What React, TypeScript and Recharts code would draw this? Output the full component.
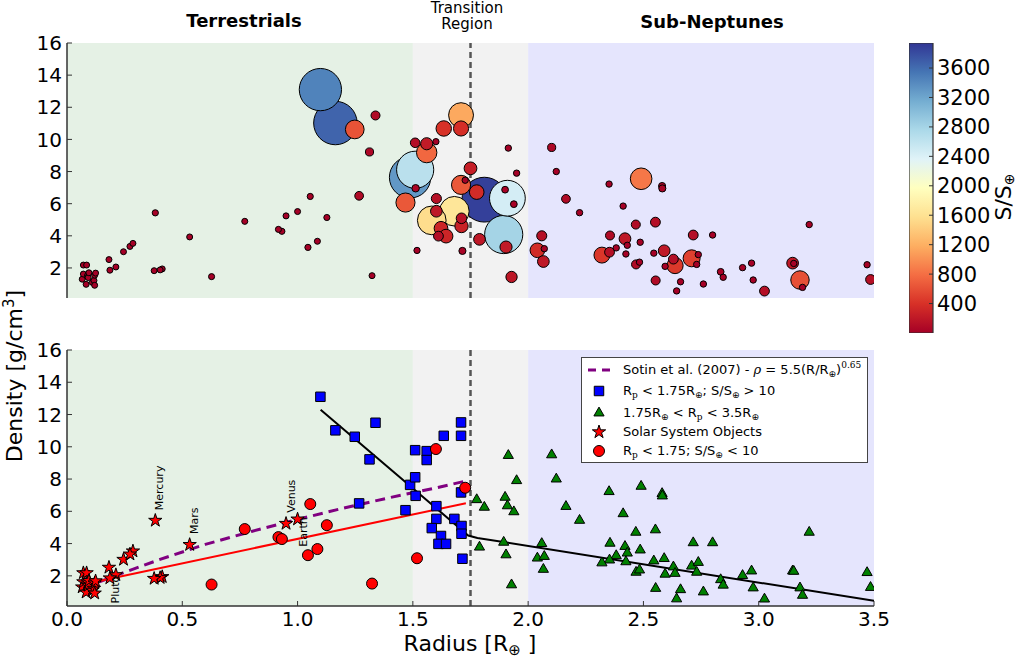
import React from 'react';
import {
  ScatterChart, Scatter, XAxis, YAxis, ZAxis, ReferenceArea, ReferenceLine, Cell, Legend,
  BarChart, Bar, Symbols,
} from 'recharts';

const FONT = "'DejaVu Sans', sans-serif";

// ---------- DATA (radius R⊕, density g/cm³, insolation S/S⊕) ----------
const solarSystem = [
  { x: 0.383, y: 5.43, s: 6.7 }, { x: 0.95, y: 5.24, s: 1.9 }, { x: 1.0, y: 5.51, s: 1.0 },
  { x: 0.532, y: 3.93, s: 0.43 }, { x: 0.286, y: 3.53, s: 0.04 }, { x: 0.245, y: 3.01, s: 0.04 },
  { x: 0.273, y: 3.34, s: 1.0 }, { x: 0.413, y: 1.94, s: 0.04 }, { x: 0.404, y: 1.88, s: 0.01 },
  { x: 0.378, y: 1.83, s: 0.04 }, { x: 0.212, y: 2.06, s: 0.001 }, { x: 0.186, y: 1.86, s: 0.001 },
  { x: 0.182, y: 2.52, s: 0.001 }, { x: 0.071, y: 2.18, s: 0.14 }, { x: 0.085, y: 2.18, s: 0.14 },
  { x: 0.066, y: 1.30, s: 0.01 }, { x: 0.071, y: 1.62, s: 0.01 }, { x: 0.083, y: 0.98, s: 0.01 },
  { x: 0.088, y: 1.48, s: 0.01 }, { x: 0.091, y: 1.60, s: 0.003 }, { x: 0.092, y: 1.40, s: 0.003 },
  { x: 0.095, y: 1.70, s: 0.001 }, { x: 0.11, y: 1.10, s: 0.01 }, { x: 0.117, y: 1.22, s: 0.01 },
  { x: 0.12, y: 0.92, s: 0.01 }, { x: 0.12, y: 1.55, s: 0.003 }, { x: 0.124, y: 1.68, s: 0.003 },
];

const coolPlanets = [
  { x: 0.627, y: 1.46, s: 3 }, { x: 0.771, y: 4.9, s: 2 }, { x: 0.917, y: 4.4, s: 3 },
  { x: 0.932, y: 4.28, s: 4 }, { x: 1.055, y: 6.45, s: 5 }, { x: 1.127, y: 5.14, s: 4 },
  { x: 1.086, y: 3.66, s: 2 }, { x: 1.045, y: 3.28, s: 6 }, { x: 1.323, y: 1.52, s: 1 },
  { x: 1.518, y: 3.09, s: 8 }, { x: 1.6, y: 9.86, s: 7 }, { x: 1.727, y: 7.46, s: 9 },
];

const hotPlanets = [
  { x: 1.099, y: 13.1, s: 3450 }, { x: 1.164, y: 11.02, s: 3650 }, { x: 1.248, y: 10.62, s: 620 },
  { x: 1.338, y: 11.49, s: 90 }, { x: 1.312, y: 9.22, s: 60 }, { x: 1.267, y: 6.49, s: 80 },
  { x: 1.468, y: 6.07, s: 650 }, { x: 1.488, y: 7.64, s: 3300 }, { x: 1.51, y: 8.11, s: 2650 },
  { x: 1.512, y: 6.96, s: 40 }, { x: 1.51, y: 9.79, s: 110 }, { x: 1.56, y: 9.73, s: 220 },
  { x: 1.56, y: 9.18, s: 750 }, { x: 1.634, y: 10.68, s: 400 }, { x: 1.709, y: 10.68, s: 380 },
  { x: 1.709, y: 11.51, s: 1150 }, { x: 1.709, y: 7.17, s: 650 }, { x: 1.602, y: 6.32, s: 130 },
  { x: 1.602, y: 5.53, s: 200 }, { x: 1.68, y: 5.53, s: 1650 }, { x: 1.711, y: 5.09, s: 150 },
  { x: 1.582, y: 4.96, s: 1550 }, { x: 1.711, y: 4.61, s: 280 }, { x: 1.622, y: 4.47, s: 300 },
  { x: 1.611, y: 3.98, s: 120 }, { x: 1.644, y: 3.98, s: 300 }, { x: 1.715, y: 3.06, s: 30 },
];

const subNeptunes = [
  { x: 1.777, y: 6.72, s: 350 }, { x: 1.81, y: 6.25, s: 3880 }, { x: 1.789, y: 3.78, s: 200 },
  { x: 1.914, y: 9.46, s: 10 }, { x: 1.95, y: 7.9, s: 10 }, { x: 1.9, y: 6.87, s: 20 },
  { x: 1.91, y: 6.34, s: 2450 }, { x: 1.938, y: 5.97, s: 20 }, { x: 1.894, y: 4.08, s: 2800 },
  { x: 1.904, y: 3.3, s: 220 }, { x: 1.928, y: 1.44, s: 180 }, { x: 2.102, y: 9.5, s: 60 },
  { x: 2.122, y: 8.0, s: 10 }, { x: 2.164, y: 6.3, s: 80 }, { x: 2.223, y: 5.44, s: 10 },
  { x: 2.059, y: 4.0, s: 130 }, { x: 2.04, y: 3.1, s: 350 }, { x: 2.07, y: 3.2, s: 10 },
  { x: 2.066, y: 2.4, s: 200 }, { x: 2.351, y: 7.22, s: 10 }, { x: 2.49, y: 7.55, s: 850 },
  { x: 2.581, y: 7.1, s: 30 }, { x: 2.582, y: 6.95, s: 30 }, { x: 2.412, y: 5.85, s: 10 },
  { x: 2.552, y: 4.85, s: 120 }, { x: 2.467, y: 4.7, s: 90 }, { x: 2.355, y: 4.02, s: 90 },
  { x: 2.42, y: 3.82, s: 200 }, { x: 2.486, y: 3.6, s: 10 }, { x: 2.43, y: 3.41, s: 10 },
  { x: 2.382, y: 3.25, s: 10 }, { x: 2.353, y: 2.98, s: 120 }, { x: 2.32, y: 2.8, s: 430 },
  { x: 2.424, y: 2.87, s: 10 }, { x: 2.468, y: 2.22, s: 90 }, { x: 2.483, y: 2.36, s: 10 },
  { x: 2.545, y: 2.92, s: 10 }, { x: 2.59, y: 3.07, s: 200 }, { x: 2.594, y: 2.1, s: 10 },
  { x: 2.63, y: 2.55, s: 120 }, { x: 2.637, y: 2.15, s: 450 }, { x: 2.553, y: 1.22, s: 90 },
  { x: 2.661, y: 1.14, s: 10 }, { x: 2.644, y: 0.57, s: 10 }, { x: 2.716, y: 4.05, s: 120 },
  { x: 2.8, y: 4.05, s: 10 }, { x: 2.709, y: 2.6, s: 500 }, { x: 2.738, y: 2.83, s: 10 },
  { x: 2.731, y: 2.22, s: 10 }, { x: 2.76, y: 1.0, s: 10 }, { x: 2.835, y: 1.76, s: 20 },
  { x: 2.846, y: 1.42, s: 10 }, { x: 2.93, y: 2.02, s: 10 }, { x: 2.969, y: 2.3, s: 10 },
  { x: 2.976, y: 1.25, s: 10 }, { x: 3.025, y: 0.56, s: 120 }, { x: 3.147, y: 2.3, s: 200 },
  { x: 3.152, y: 2.28, s: 10 }, { x: 3.179, y: 1.25, s: 600 }, { x: 3.19, y: 0.79, s: 10 },
  { x: 3.219, y: 4.7, s: 10 }, { x: 3.47, y: 2.2, s: 10 }, { x: 3.485, y: 1.28, s: 120 },
];

const unclassified = [{ x: 1.75, y: 8.2, s: 250 }];

const sotinCurve = [
  { x: 0.14, y: 1.62 }, { x: 0.25, y: 2.22 }, { x: 0.4, y: 3.0 }, { x: 0.6, y: 3.95 },
  { x: 0.8, y: 4.75 }, { x: 1.0, y: 5.5 }, { x: 1.2, y: 6.2 }, { x: 1.4, y: 6.85 },
  { x: 1.6, y: 7.45 }, { x: 1.73, y: 7.88 },
];
const coolFit = [{ x: 0.145, y: 1.7 }, { x: 1.73, y: 6.5 }];
const hotSubFit = [{ x: 1.1, y: 12.3 }, { x: 1.74, y: 4.5 }, { x: 1.78, y: 4.35 }, { x: 3.5, y: 0.45 }];

const annotations = [
  { x: 0.417, y: 6.07, label: 'Mercury' },
  { x: 0.57, y: 4.59, label: 'Mars' },
  { x: 0.989, y: 5.91, label: 'Venus' },
  { x: 1.039, y: 3.8, label: 'Earth' },
  { x: 0.226, y: 0.29, label: 'Pluto' },
];

const regionBounds = [[0, 1.5], [1.5, 2.0], [2.0, 3.5]];
const xTicks = [0, 0.5, 1.0, 1.5, 2.0, 2.5, 3.0, 3.5];
const yTicks = [2, 4, 6, 8, 10, 12, 14, 16];
const cbTicks = [400, 800, 1200, 1600, 2000, 2400, 2800, 3200, 3600];
const sMax = 3940;
const boundary = 1.75;
const colorbarData = [{ name: 'S', v: sMax }];

// ---------- STYLE ----------
const xDomain: [number, number] = [0, 3.5];
const yDomain: [number, number] = [0.13, 16];
const regionFills = ['#e5f1e5', '#f2f2f2', '#e5e5fd'];
const RDYLBU = ['#a50026', '#d73027', '#f46d43', '#fdae61', '#fee090', '#ffffbf',
  '#e0f3f8', '#abd9e9', '#74add1', '#4575b4', '#313695'];
const axisStroke = '#333';
const tickFont = { fill: '#000', fontSize: 20, fontFamily: FONT };

function hexToRgb(h: string) {
  return [parseInt(h.slice(1, 3), 16), parseInt(h.slice(3, 5), 16), parseInt(h.slice(5, 7), 16)];
}
function cmap(t: number) {
  const c = Math.max(0, Math.min(1, t)) * 10;
  const i = Math.min(9, Math.floor(c));
  const f = c - i;
  const a = hexToRgb(RDYLBU[i]);
  const b = hexToRgb(RDYLBU[i + 1]);
  const m = a.map((v, k) => Math.round(v + (b[k] - v) * f));
  return `rgb(${m[0]},${m[1]},${m[2]})`;
}

const topData = [...solarSystem, ...coolPlanets, ...hotPlanets, ...subNeptunes, ...unclassified]
  .slice()
  .sort((a, b) => b.s - a.s);

function panelAxes(showX: boolean) {
  const line = { stroke: axisStroke, strokeWidth: 1.5 };
  const tl = { stroke: axisStroke, strokeWidth: 1 };
  return [
    <XAxis key="xb" xAxisId="b" dataKey="x" type="number" domain={xDomain} ticks={xTicks} interval={0}
      allowDataOverflow height={showX ? 30 : 0} tick={showX ? tickFont : false}
      tickFormatter={(v: number) => v.toFixed(1)} tickSize={-5} tickMargin={11}
      axisLine={line} tickLine={tl} />,
    <XAxis key="xt" xAxisId="t" orientation="top" dataKey="x" type="number" domain={xDomain} ticks={xTicks}
      interval={0} allowDataOverflow height={0} tick={false} tickSize={-5} axisLine={line} tickLine={tl} />,
    <YAxis key="yl" yAxisId="l" dataKey="y" type="number" domain={yDomain} ticks={yTicks} interval={0}
      allowDataOverflow width={67} tick={tickFont} tickSize={-5} tickMargin={10} axisLine={line} tickLine={tl} />,
    <YAxis key="yr" yAxisId="r" orientation="right" dataKey="y" type="number" domain={yDomain} ticks={yTicks}
      interval={0} allowDataOverflow width={0} tick={false} tickSize={-5} axisLine={line} tickLine={tl} />,
  ];
}

function regions() {
  return [
    ...regionBounds.map((b, i) => (
      <ReferenceArea key={'ra' + i} xAxisId="b" yAxisId="l" x1={b[0]} x2={b[1]} y1={yDomain[0]} y2={yDomain[1]}
        fill={regionFills[i]} fillOpacity={1} stroke="none" ifOverflow="hidden" />
    )),
    <ReferenceLine key="rl" xAxisId="b" yAxisId="l" x={boundary} stroke="#555" strokeWidth={2.5}
      strokeDasharray="6 4" />,
  ];
}

const noShape = () => <g />;
const symShape = (type: any, size: number, fill: string) => (p: any) => (
  <Symbols cx={p.cx} cy={p.cy} type={type} size={size} fill={fill} stroke="#000" strokeWidth={1} />
);
const labelShape = (p: any) => (
  <text x={p.cx} y={p.cy} transform={`rotate(-90 ${p.cx} ${p.cy})`} fontSize={11} fontFamily={FONT}
    fill="#000">{p.payload.label}</text>
);

const sub = (t: string, serif = false) => (
  <span style={{ fontSize: 9, position: 'relative', top: 3, fontFamily: serif ? "'DejaVu Serif', serif" : FONT }}>{t}</span>
);

const LegendMarker = ({ kind }: { kind: string }) => (
  <svg width={26} height={16} style={{ position: 'absolute', left: 4, top: -8 }}>
    {kind === 'dash' && <line x1={2} y1={8} x2={26} y2={8} stroke="#800080" strokeWidth={3} strokeDasharray="8 6" />}
    {kind === 'square' && <Symbols cx={13} cy={8} type="square" size={90} fill="#0000ff" stroke="#000" strokeWidth={1} />}
    {kind === 'triangle' && <Symbols cx={13} cy={8} type="triangle" size={45} fill="#008000" stroke="#000" strokeWidth={1} />}
    {kind === 'star' && <Symbols cx={13} cy={8} type="star" size={55} fill="#ff0000" stroke="#000" strokeWidth={1} />}
    {kind === 'circle' && <Symbols cx={13} cy={8} type="circle" size={95} fill="#ff0000" stroke="#000" strokeWidth={1} />}
  </svg>
);

const legendRows: { kind: string; top: number; body: React.ReactNode }[] = [
  {
    kind: 'dash', top: 11.5, body: (
      <>Sotin et al. (2007) - <i style={{ fontFamily: "'DejaVu Serif', serif" }}>ρ</i> = 5.5(R/R{sub('⊕')})
        <span style={{ fontSize: 9, position: 'relative', top: -6, fontFamily: "'DejaVu Serif', serif" }}>0.65</span></>
    ),
  },
  { kind: 'square', top: 33, body: <>R{sub('p', true)} &lt; 1.75R{sub('⊕')}; S/S{sub('⊕')} &gt; 10</> },
  { kind: 'triangle', top: 54.5, body: <>1.75R{sub('⊕')} &lt; R{sub('p', true)} &lt; 3.5R{sub('⊕')}</> },
  { kind: 'star', top: 74, body: <>Solar System Objects</> },
  { kind: 'circle', top: 92.5, body: <>R{sub('p', true)} &lt; 1.75; S/S{sub('⊕')} &lt; 10</> },
];

const renderLegend = () => (
  <div style={{
    width: 287, height: 106, boxSizing: 'border-box', border: '1.5px solid #444', background: '#fff',
    position: 'relative', fontFamily: FONT, fontSize: 13, color: '#000',
  }}>
    {legendRows.map((r) => (
      <div key={r.kind} style={{ position: 'absolute', left: 0, top: r.top, width: '100%' }}>
        <LegendMarker kind={r.kind} />
        <div style={{ position: 'absolute', left: 41, top: -9, whiteSpace: 'nowrap', lineHeight: '18px' }}>{r.body}</div>
      </div>
    ))}
  </div>
);

export default function App() {
  return (
    <div style={{ position: 'absolute', left: 0, top: 0, width: 1020, height: 659, background: '#fff', overflow: 'hidden', fontFamily: FONT }}>
      <svg width={0} height={0} style={{ position: 'absolute' }}>
        <defs>
          <linearGradient id="cbGrad" x1="0" y1="1" x2="0" y2="0">
            {RDYLBU.map((c, i) => <stop key={i} offset={`${i * 10}%`} stopColor={c} />)}
          </linearGradient>
        </defs>
      </svg>

      {/* Top panel */}
      <div style={{ position: 'absolute', left: 0, top: 0 }}>
        <ScatterChart width={900} height={300} margin={{ top: 43, right: 26, bottom: 2, left: 0 }}>
          {panelAxes(false)}
          <ZAxis zAxisId="s" dataKey="s" type="number" domain={[0, sMax]} range={[28, 1600]} />
          {regions()}
          <Scatter data={topData} xAxisId="b" yAxisId="l" zAxisId="s" stroke="#000" strokeWidth={1}
            isAnimationActive={false}>
            {topData.map((p, i) => <Cell key={i} fill={cmap(p.s / sMax)} />)}
          </Scatter>
        </ScatterChart>
      </div>

      {/* Bottom panel */}
      <div style={{ position: 'absolute', left: 0, top: 307 }}>
        <ScatterChart width={900} height={331} margin={{ top: 43, right: 26, bottom: 2, left: 0 }}>
          {panelAxes(true)}
          {regions()}
          <Scatter data={sotinCurve} xAxisId="b" yAxisId="l" shape={noShape} legendType="none"
            line={{ stroke: '#800080', strokeWidth: 3, strokeDasharray: '10 6' }} isAnimationActive={false} />
          <Scatter data={coolFit} xAxisId="b" yAxisId="l" shape={noShape} legendType="none"
            line={{ stroke: '#ff0000', strokeWidth: 2 }} isAnimationActive={false} />
          <Scatter data={hotSubFit} xAxisId="b" yAxisId="l" shape={noShape} legendType="none"
            line={{ stroke: '#000', strokeWidth: 2 }} isAnimationActive={false} />
          <Scatter data={hotPlanets} xAxisId="b" yAxisId="l" shape={symShape('square', 90, '#0000ff')} isAnimationActive={false} />
          <Scatter data={subNeptunes} xAxisId="b" yAxisId="l" shape={symShape('triangle', 45, '#008000')} isAnimationActive={false} />
          <Scatter data={solarSystem} xAxisId="b" yAxisId="l" shape={symShape('star', 55, '#ff0000')} isAnimationActive={false} />
          <Scatter data={coolPlanets} xAxisId="b" yAxisId="l" shape={symShape('circle', 95, '#ff0000')} isAnimationActive={false} />
          <Scatter data={annotations} xAxisId="b" yAxisId="l" shape={labelShape} legendType="none" isAnimationActive={false} />
          <Legend layout="vertical" align="center" verticalAlign="middle" content={renderLegend}
            wrapperStyle={{ left: 581, top: 50, width: 287, height: 106 }} />
        </ScatterChart>
      </div>

      {/* Colorbar */}
      <div style={{ position: 'absolute', left: 909, top: 0 }}>
        <BarChart width={111} height={340} data={colorbarData} margin={{ top: 43, right: 0, bottom: 7, left: 0 }}
          barCategoryGap={0}>
          <XAxis dataKey="name" hide />
          <YAxis orientation="right" domain={[0, sMax]} ticks={cbTicks} interval={0} width={87} allowDataOverflow
            tickSize={-4} tickMargin={8} axisLine={false} tickLine={{ stroke: '#333' }}
            tick={{ fill: '#000', fontSize: 21, fontFamily: FONT, textAnchor: 'start' }} />
          <Bar dataKey="v" fill="url(#cbGrad)" stroke="#333" strokeWidth={1.2} isAnimationActive={false} />
        </BarChart>
      </div>

      {/* Text overlay */}
      <svg width={1020} height={659} style={{ position: 'absolute', left: 0, top: 0, pointerEvents: 'none' }}
        fontFamily={FONT}>
        <text x={244} y={27} textAnchor="middle" fontSize={18} fontWeight="bold">Terrestrials</text>
        <text x={467} y={12.5} textAnchor="middle" fontSize={15}>Transition</text>
        <text x={467} y={28.5} textAnchor="middle" fontSize={15}>Region</text>
        <text x={712} y={28} textAnchor="middle" fontSize={18} fontWeight="bold">Sub-Neptunes</text>
        <text x={22} y={376} transform="rotate(-90 22 376)" textAnchor="middle" fontSize={22}>
          Density [g/cm<tspan fontSize={15} dy={-8}>3</tspan><tspan dy={8}>]</tspan>
        </text>
        <text x={470} y={651} textAnchor="middle" fontSize={22}>
          Radius [R<tspan fontSize={15} dy={4}>⊕</tspan><tspan dy={-4}> ]</tspan>
        </text>
        <text x={1011} y={197} transform="rotate(-90 1011 197)" textAnchor="middle" fontSize={22}>
          S/S<tspan fontSize={14} dy={3}>⊕</tspan>
        </text>
      </svg>
    </div>
  );
}
